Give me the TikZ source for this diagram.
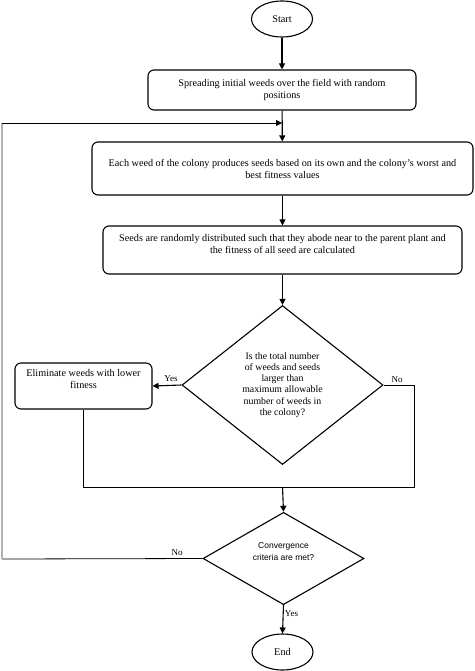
\documentclass[tikz,border=0pt]{standalone}
\usepackage{fontspec}
\setmainfont{Liberation Serif}
\newfontfamily\sansf{Liberation Sans}
\usetikzlibrary{shapes.geometric,arrows.meta}
\begin{document}
\begin{tikzpicture}[x=1pt,y=-1pt,
  box/.style={draw,rounded corners=6pt,line width=1.1pt,align=center,inner sep=0pt,font=\fontsize{10.2}{12}\selectfont},
  term/.style={draw,ellipse,line width=1.1pt,minimum width=61pt,minimum height=36pt,inner sep=0pt,font=\fontsize{10.3}{11}\selectfont},
  dec/.style={draw,diamond,line width=1.1pt,inner sep=0pt,align=center},
  arr/.style={line width=1.1pt,-{Triangle[length=6pt,width=6pt]}},
  ln/.style={line width=0.8pt},
  lab/.style={font=\fontsize{9}{10}\selectfont,inner sep=0pt}]
\useasboundingbox (0,0) rectangle (474,671);
\fill[white] (0,0) rectangle (474,671);

\node[term] (start) at (282,19) {Start};
\node[box,minimum width=268pt,minimum height=40pt] (b1) at (282,90)
  {Spreading initial weeds over the field with random\\positions};
\node[box,minimum width=381pt,minimum height=53pt] (b2) at (282.5,168.5)
  {Each weed of the colony produces seeds based on its own and the colony's worst and\\best fitness values};
\node[box,minimum width=359pt,minimum height=48pt] (b3) at (282.5,250)
  {Seeds are randomly distributed such that they abode near to the parent plant and\\the fitness of all seed are calculated\\[1pt]};
\node[dec,minimum width=201pt,minimum height=159pt,font=\fontsize{9.8}{11.3}\selectfont] (d1) at (282.5,385)
  {Is the total number\\of weeds and seeds\\larger than\\maximum allowable\\number of weeds in\\the colony?};
\node[box,minimum width=137pt,minimum height=46pt] (elim) at (83.5,386)
  {Eliminate weeds with lower\\fitness\\[3pt]};
\node[dec,minimum width=161pt,minimum height=83pt,font=\sansf\fontsize{8.5}{12}\selectfont] (d2) at (283.5,558.5)
  {Convergence\\criteria are met?\\[1pt]};
\node[term] (end) at (282.5,652) {End};

\coordinate (j1) at (282,123);
\coordinate (j2) at (282.5,487);
\coordinate (cl1) at (2,559);
\coordinate (cl2) at (2,123);
\coordinate (cr) at (414,385);

\draw[arr] (start) -- (b1);
\draw[arr] (b1) -- (b2);
\draw[arr] (b2) -- (b3);
\draw[arr] (b3) -- (d1);
\draw[arr] (d1.west) -- (elim.east);
\draw[ln] (d1.east) -- (cr) -- (cr |- j2) -- (elim.south |- j2) -- (elim.south);
\draw[arr] (j2) -- (d2.north);
\draw[arr] (d2.south) -- (end.north);
\draw[ln] (d2.west) -- (cl1);
\draw[gray!60,line width=1.8pt] (cl1) -- (cl2);
\draw[ln,-{Triangle[length=6pt,width=6pt]}] (cl2) -- (j1);

\node[lab] (yes1) at (171,379) {Yes};
\node[lab] (no1) at (397,380) {No};
\node[lab] (no2) at (177,553) {No};
\node[lab] (yes2) at (291.5,614) {Yes};
\end{tikzpicture}
\end{document}
